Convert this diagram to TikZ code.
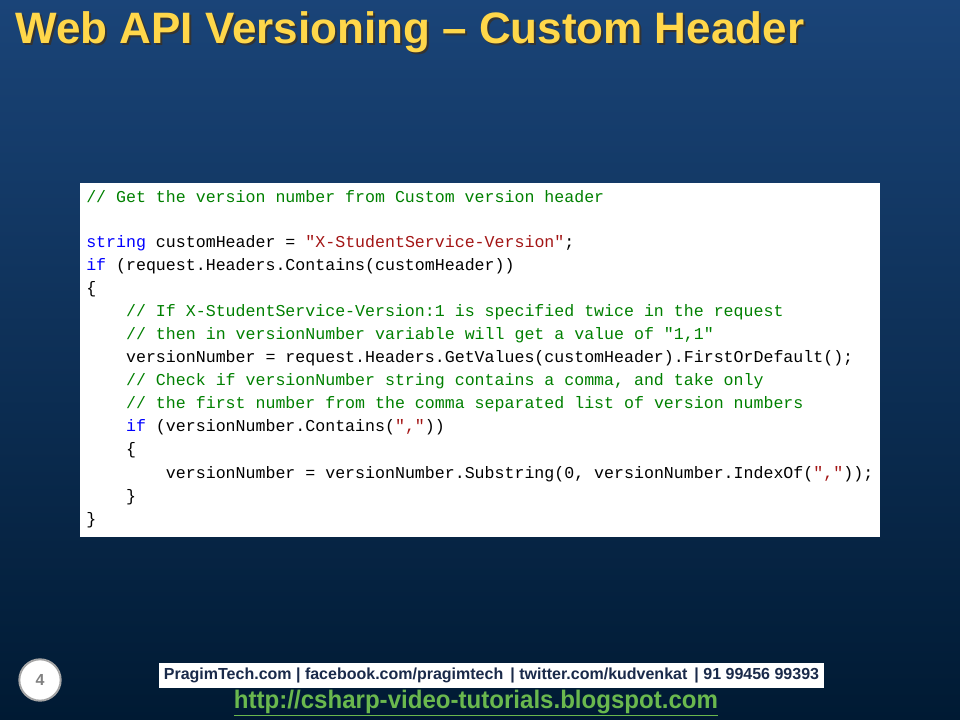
\documentclass[tikz,border=0pt]{standalone}
\usepackage{fontspec}
\setmainfont{Liberation Sans}
\newfontfamily\codefont{Liberation Mono}
\usetikzlibrary{positioning}
\definecolor{bgtop}{HTML}{1A4478}
\definecolor{bgbot}{HTML}{001A33}
\definecolor{titleyellow}{HTML}{FFD74A}
\definecolor{cmtgreen}{HTML}{008000}
\definecolor{kwblue}{HTML}{0000FF}
\definecolor{strred}{HTML}{A31515}
\definecolor{navytext}{HTML}{1A2A4A}
\definecolor{linkgreen}{HTML}{6AB84E}
\newcommand{\cmt}[1]{\textcolor{cmtgreen}{#1}}
\newcommand{\kw}[1]{\textcolor{kwblue}{#1}}
\newcommand{\str}[1]{\textcolor{strred}{#1}}
\newcommand{\ind}{\phantom{xxxx}}
\tikzset{
	code line/.style={
		anchor=west,
		inner sep=0pt,
		font=\codefont\fontsize{12.45pt}{14pt}\selectfont
	},
}

\begin{document}
\begin{tikzpicture}[x=0.75pt, y=-0.75pt]

\fill [top color=bgtop, bottom color=bgbot] (0,0) rectangle (960,720);
\useasboundingbox (0,0) rectangle (960,720);

% title
\node [anchor=west, inner sep=0pt, text=black!80, font=\bfseries\fontsize{33pt}{38pt}\selectfont]
	at (17,34) {Web API Versioning – Custom Header};
\node [anchor=west, inner sep=0pt, text=titleyellow, font=\bfseries\fontsize{33pt}{38pt}\selectfont]
	(title) at (15,32) {Web API Versioning – Custom Header};

% code box
\fill [white] (80,183) rectangle (880,537);
\foreach \t/\y [count=\i] in {
	{\cmt{// Get the version number from Custom version header}}/197,
	{\kw{string} customHeader = \str{"X-StudentService-Version"};}/243,
	{\kw{if} (request.Headers.Contains(customHeader))}/266,
	{\{}/289,
	{\ind\cmt{// If X-StudentService-Version:1 is specified twice in the request}}/312,
	{\ind\cmt{// then in versionNumber variable will get a value of "1,1"}}/335,
	{\ind versionNumber = request.Headers.GetValues(customHeader).FirstOrDefault();}/358,
	{\ind\cmt{// Check if versionNumber string contains a comma, and take only}}/381,
	{\ind\cmt{// the first number from the comma separated list of version numbers}}/404,
	{\ind\kw{if} (versionNumber.Contains(\str{","}))}/427,
	{\ind\{}/450,
	{\ind\ind versionNumber = versionNumber.Substring(0, versionNumber.IndexOf(\str{","}));}/474,
	{\ind\}}/497,
	{\}}/520}
	\node [code line] (line-\i) at (86,\y) {\t};

% footer
\node [circle, draw=gray!70, line width=1.5pt, fill=white, minimum size=31pt, inner sep=0pt,
	text=gray, font=\bfseries\fontsize{12pt}{14pt}\selectfont] (page) at (40,680) {4};
\node [fill=white, minimum width=498.75pt, minimum height=18.75pt, inner sep=0pt, text=navytext,
	font=\bfseries\fontsize{12pt}{14pt}\selectfont] (contact) at (491.5,675.5)
	{PragimTech.com | facebook.com/pragimtech \,| twitter.com/kudvenkat \,| 91 99456 99393};
\node [inner sep=0pt, text=linkgreen, font=\bfseries\fontsize{19pt}{22pt}\selectfont]
	(link) at (476,703) {\scalebox{0.95}[1]{\underline{http://csharp-video-tutorials.blogspot.com}}};

\end{tikzpicture}
\end{document}
